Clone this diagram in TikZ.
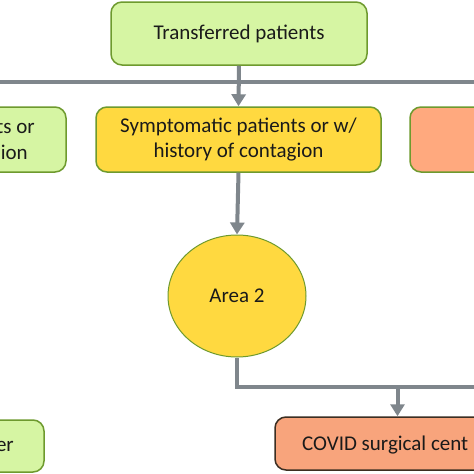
\documentclass[tikz,border=0pt]{standalone}
\usepackage{fontspec}
\setmainfont{Carlito}
\usetikzlibrary{arrows.meta,shapes.geometric}
\definecolor{boxgreen}{HTML}{D6F5A3}
\definecolor{boxyellow}{HTML}{FFD940}
\definecolor{boxorange}{HTML}{FFA97E}
\definecolor{covidorange}{HTML}{F8A47C}
\definecolor{edgegreen}{HTML}{6E9A2E}
\definecolor{flowgray}{HTML}{7F868C}
\definecolor{inktext}{HTML}{1A1A1A}
\tikzset{
  stage/.style={draw=edgegreen, line width=1.5pt, rectangle, rounded corners=11pt, text=inktext, align=center, inner sep=0pt},
  flow/.style={draw=flowgray, line width=4pt},
  flowarrow/.style={flow, -{Triangle[width=14pt,length=12pt]}},
}
\begin{document}
\begin{tikzpicture}[x=1pt,y=-1pt,font=\fontsize{21}{25.5}\selectfont]
\useasboundingbox (0,0) rectangle (474,474);
\clip (0,0) rectangle (474,474);
\fill[white] (0,0) rectangle (474,474);

\node (transf)[stage, fill=boxgreen, minimum width=256pt, minimum height=63pt] at (239,33.5) {Transferred patients};
\node (sympt) [stage, fill=boxyellow, minimum width=285pt, minimum height=65pt] at (238.5,139.5) {Symptomatic patients or w/\\history of contagion};
\node (leftbox) [stage, fill=boxgreen, minimum width=110pt, minimum height=65pt] at (11,139.5) {};
\node (lefttop) [anchor=east, text=inktext, inner sep=0pt] at (35,127) {ts or};
\node (leftbot) [anchor=east, text=inktext, inner sep=0pt] at (28,152) {ion};
\node (rightbox)[stage, fill=boxorange, minimum width=110pt, minimum height=65pt] at (465,139.5) {};

\node (area) [draw=edgegreen, line width=1pt, ellipse, fill=boxyellow, minimum width=138pt, minimum height=122pt, text=inktext] at (237,296) {Area 2};

\node (covid) [stage, draw=inktext!80!brown, fill=covidorange, minimum width=245pt, minimum height=53pt] at (397.5,443.5) {};
\node (covidtext)[anchor=west, text=inktext, inner sep=0pt] at (302,445) {COVID surgical cent};
\node (botleft) [stage, fill=boxgreen, minimum width=84pt, minimum height=52pt] at (2,446) {};
\node (botlefttext)[anchor=east, text=inktext, inner sep=0pt] at (14,446) {er};

\coordinate (splitL) at (0,82);
\coordinate (splitR) at (474,82);
\coordinate (joinR) at (474,387);

\draw [flow](splitL)--(splitR);
\draw [flowarrow](transf.south)--(sympt.north);
\draw [flowarrow](sympt.south)--(area.north);
\draw [flow](area.south)|-(joinR);
\draw [flowarrow](covid.north |- joinR)--(covid.north);
\end{tikzpicture}
\end{document}
